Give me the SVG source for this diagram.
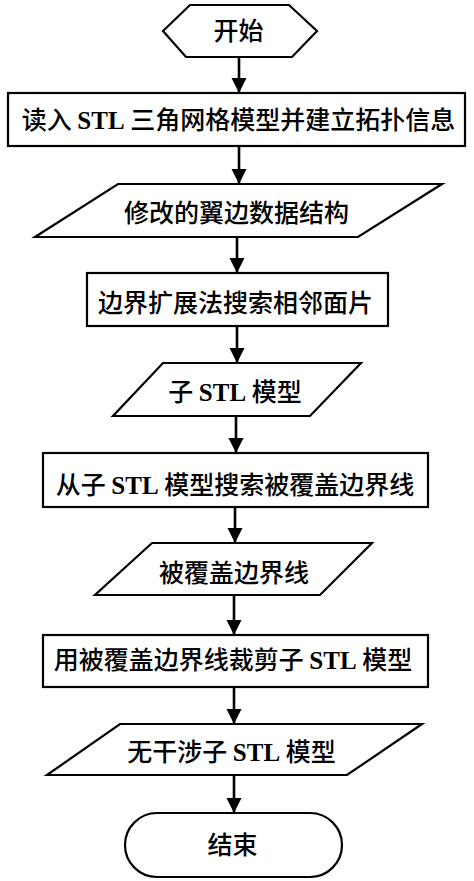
<svg xmlns="http://www.w3.org/2000/svg" width="474" height="881" viewBox="0 0 474 881">
<style>
.s{fill:#fff;stroke:#000;stroke-width:2.2;stroke-linejoin:miter}
.t{font-family:"Noto Sans CJK SC","Liberation Serif",sans-serif;font-size:25px;font-weight:500;text-anchor:middle;fill:#000}
.l{font-family:"Liberation Serif",serif;font-weight:bold}
.c{stroke:#000;stroke-width:2.6;fill:none;marker-end:url(#ah)}
</style>
<defs>
<marker id="ah" markerUnits="userSpaceOnUse" markerWidth="16" markerHeight="16" refX="15" refY="7.5" orient="auto">
<path d="M0,0 L15,7.5 L0,15 z" fill="#000"/>
</marker>
</defs>
<g id="start"><polygon class="s" points="163,31 190,5 289,5 317,31 292,57 186,57"/><text class="t" x="238.5" y="40">开始</text></g>
<g id="n1"><rect class="s" x="8" y="93" width="457" height="53"/><text class="t" x="238.5" y="129">读入 <tspan class="l">STL</tspan> 三角网格模型并建立拓扑信息</text></g>
<g id="n2"><polygon class="s" points="118,184 442,184 358,237 35,237"/><text class="t" x="236.5" y="222">修改的翼边数据结构</text></g>
<g id="n3"><rect class="s" x="87" y="273" width="301" height="53"/><text class="t" x="235.5" y="312">边界扩展法搜索相邻面片</text></g>
<g id="n4"><polygon class="s" points="163,363 361,363 310,416 113,416"/><text class="t" x="235" y="401">子 <tspan class="l">STL</tspan> 模型</text></g>
<g id="n5"><rect class="s" x="43" y="453" width="385" height="54"/><text class="t" x="235" y="494">从子 <tspan class="l">STL</tspan> 模型搜索被覆盖边界线</text></g>
<g id="n6"><polygon class="s" points="152,543 372,543 320,595 95,595"/><text class="t" x="234" y="582">被覆盖边界线</text></g>
<g id="n7"><rect class="s" x="43" y="635" width="385" height="52"/><text class="t" x="233" y="669">用被覆盖边界线裁剪子 <tspan class="l">STL</tspan> 模型</text></g>
<g id="n8"><polygon class="s" points="120,724 422,724 347,775 47,775"/><text class="t" x="231.5" y="761">无干涉子 <tspan class="l">STL</tspan> 模型</text></g>
<g id="end"><rect class="s" x="125" y="813" width="217" height="64" rx="32" ry="32"/><text class="t" x="232.5" y="854">结束</text></g>
<g id="connectors">
<line class="c" x1="239" y1="57" x2="239" y2="93"/>
<line class="c" x1="239" y1="146" x2="239" y2="184"/>
<line class="c" x1="237" y1="237" x2="237" y2="273"/>
<line class="c" x1="237" y1="326" x2="237" y2="363"/>
<line class="c" x1="236" y1="416" x2="236" y2="453"/>
<line class="c" x1="235" y1="507" x2="235" y2="543"/>
<line class="c" x1="234" y1="595" x2="234" y2="635"/>
<line class="c" x1="234" y1="687" x2="234" y2="724"/>
<line class="c" x1="234" y1="775" x2="234" y2="813"/>
</g>
</svg>
